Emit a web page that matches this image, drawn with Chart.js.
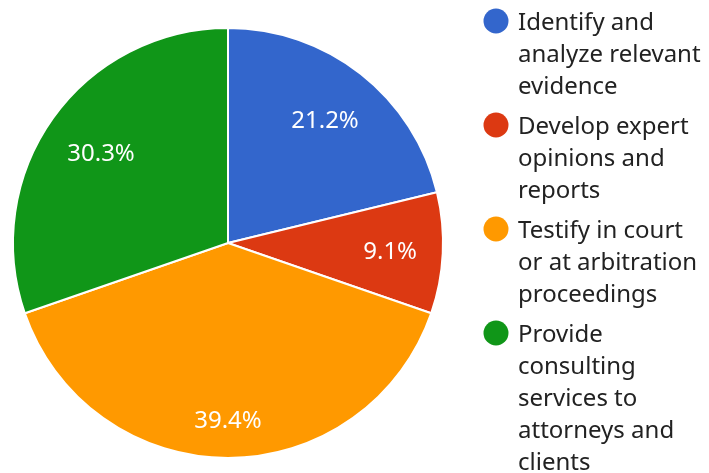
<!DOCTYPE html>
<html>
<head>
<meta charset="utf-8" />
<title>Pie</title>
<script src="https://cdn.jsdelivr.net/npm/chart.js@4.4.1/dist/chart.umd.min.js"></script>
<style>
	html, body { margin: 0; padding: 0; background: #fff; }
	#wrap { width: 709px; height: 473px; }
</style>
</head>
<body>
<div id="wrap"><canvas id="pieChart" width="709" height="473"></canvas></div>
<script>
const categories = [
	'Identify and analyze relevant evidence',
	'Develop expert opinions and reports',
	'Testify in court or at arbitration proceedings',
	'Provide consulting services to attorneys and clients'
];
const responses = [7, 3, 13, 10];
const sliceColors = ['#3366cc', '#dc3912', '#ff9900', '#109618'];
// how far out (fraction of radius) each percent label sits
const labelRadius = [0.73, 0.755, 0.82, 0.725];

const FONT = '"Noto Sans", "Open Sans", sans-serif';

// percent labels inside the slices
const sliceLabels = {
	id: 'sliceLabels',
	afterDatasetsDraw(chart) {
		const ctx = chart.ctx;
		const meta = chart.getDatasetMeta(0);
		const total = responses.reduce((a, b) => a + b, 0);
		ctx.save();
		ctx.font = '24px ' + FONT;
		ctx.fillStyle = '#ffffff';
		ctx.textAlign = 'center';
		ctx.textBaseline = 'alphabetic';
		meta.data.forEach(function(arc, i) {
			const mid = (arc.startAngle + arc.endAngle) / 2;
			const r = arc.outerRadius * labelRadius[i];
			const x = arc.x + Math.cos(mid) * r;
			const y = arc.y + Math.sin(mid) * r;
			ctx.fillText((responses[i] / total * 100).toFixed(1) + '%', x, y + 8.5);
		});
		ctx.restore();
	}
};

// legend on the right, wrapped like the original
const sideLegend = {
	id: 'sideLegend',
	afterDraw(chart) {
		const ctx = chart.ctx;
		const textX = 518, dotX = 496, maxW = 709 - textX;
		const lineH = 32, gap = 8;
		let y = 21;
		ctx.save();
		ctx.font = '24px ' + FONT;
		ctx.textBaseline = 'alphabetic';
		ctx.textAlign = 'left';
		categories.forEach(function(label, i) {
			const words = label.split(' ');
			let lines = [], cur = '';
			words.forEach(function(w) {
				const test = cur ? cur + ' ' + w : w;
				if (cur && ctx.measureText(test).width > maxW) {
					lines.push(cur);
					cur = w;
				} else {
					cur = test;
				}
			});
			lines.push(cur);
			ctx.fillStyle = sliceColors[i];
			ctx.beginPath();
			ctx.arc(dotX, y, 12.5, 0, Math.PI * 2);
			ctx.fill();
			ctx.fillStyle = '#222222';
			lines.forEach(function(line, j) {
				ctx.fillText(line, textX, y + 8.5 + j * lineH);
			});
			y += lines.length * lineH + gap;
		});
		ctx.restore();
	}
};

new Chart(document.getElementById('pieChart').getContext('2d'), {
	type: 'pie',
	data: {
		labels: categories,
		datasets: [{
			data: responses,
			backgroundColor: sliceColors,
			borderColor: '#ffffff',
			borderWidth: 2
		}]
	},
	options: {
		responsive: false,
		animation: false,
		layout: { padding: { left: 12, top: 27, right: 265, bottom: 14 } },
		plugins: {
			legend: { display: false },
			tooltip: { enabled: false }
		}
	},
	plugins: [sliceLabels, sideLegend]
});
</script>
</body>
</html>
